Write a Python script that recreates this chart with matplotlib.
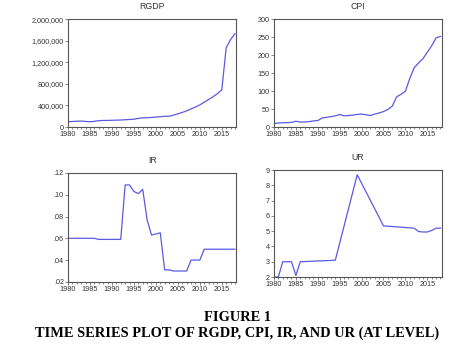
import numpy as np
import matplotlib.pyplot as plt
from matplotlib.ticker import FuncFormatter, MultipleLocator

years = list(range(1980, 2019))

# real GDP, yearly 1980-2018
rgdp = [100000, 102000, 108000, 110000, 103000, 98000, 105000, 118000, 122000, 122000,
        125000, 128000, 130000, 135000, 140000, 145000, 160000, 170000, 172000, 178000,
        185000, 192000, 198000, 200000, 220000, 245000, 270000, 300000, 335000, 370000,
        410000, 460000, 510000, 560000, 620000, 690000, 1470000, 1620000, 1730000]

cpi = [10, 11, 12, 12, 13, 16, 14, 14, 15, 17,
       18, 25, 27, 29, 31, 35, 31, 32, 33, 35,
       36, 34, 32, 36, 39, 43, 49, 58, 84, 91,
       100, 135, 165, 178, 190, 208, 226, 248, 252]

ir = [.060, .060, .060, .060, .060, .060, .060, .059, .059, .059,
      .059, .059, .059, .109, .109, .103, .101, .105, .077, .063,
      .064, .065, .031, .031, .030, .030, .030, .030, .040, .040,
      .040, .050, .050, .050, .050, .050, .050, .050, .050]

# unemployment rate, only the years that are reported
ur_years = [1980, 1981, 1982, 1983, 1984, 1985, 1986, 1994, 1999, 2005,
            2012, 2013, 2014, 2015, 2016, 2017, 2018]
ur = [2.0, 2.0, 3.0, 3.0, 3.0, 2.1, 3.0, 3.1, 8.7, 5.35,
      5.2, 4.98, 4.95, 4.95, 5.05, 5.2, 5.2]

line_col = '#5a5ae6'
frame_col = '#555555'
tick_font = {'family': 'Liberation Sans', 'size': 5.2}

fig = plt.figure(figsize=(4.74, 3.48), dpi=100)

def panel(rect, x, y, title, ylim, ystep, fmt):
    ax = fig.add_axes(rect)
    ax.plot(x, y, color=line_col, lw=0.9)
    ax.set_xlim(1980, 2018.3)
    ax.set_ylim(*ylim)
    ax.xaxis.set_major_locator(MultipleLocator(5))
    ax.xaxis.set_minor_locator(MultipleLocator(1))
    ax.yaxis.set_major_locator(MultipleLocator(ystep))
    ax.yaxis.set_major_formatter(FuncFormatter(fmt))
    ax.tick_params(which='both', direction='out', length=2, width=0.5,
                   colors=frame_col, labelcolor='#333333', pad=1)
    ax.tick_params(which='minor', length=1.2)
    for lab in ax.get_xticklabels() + ax.get_yticklabels():
        lab.set_fontfamily(tick_font['family'])
        lab.set_fontsize(tick_font['size'])
    for sp in ax.spines.values():
        sp.set_color(frame_col)
        sp.set_linewidth(0.8)
    ax.set_title(title, fontsize=6.3, family='Liberation Sans', color='#333333', pad=7)
    return ax

panel([0.1435, 0.635, 0.355, 0.31], years, rgdp, 'RGDP', (0, 2000000), 400000,
      lambda v, p: f'{int(v):,}')
panel([0.578, 0.635, 0.354, 0.31], years, cpi, 'CPI', (0, 300), 50,
      lambda v, p: f'{int(v)}')
panel([0.1435, 0.19, 0.355, 0.313], years, ir, 'IR', (0.02, 0.12), 0.02,
      lambda v, p: f'{v:.2f}'.lstrip('0'))
panel([0.578, 0.204, 0.354, 0.307], ur_years, ur, 'UR', (2, 9), 1,
      lambda v, p: f'{int(round(v))}')

fig.text(0.5, 0.088, 'FIGURE 1', ha='center', va='center',
         family='Liberation Serif', weight='bold', fontsize=10.4)
fig.text(0.5, 0.043, 'TIME SERIES PLOT OF RGDP, CPI, IR, AND UR (AT LEVEL)',
         ha='center', va='center', family='Liberation Serif', weight='bold', fontsize=10.4)

fig.savefig('out.png', dpi=100)
